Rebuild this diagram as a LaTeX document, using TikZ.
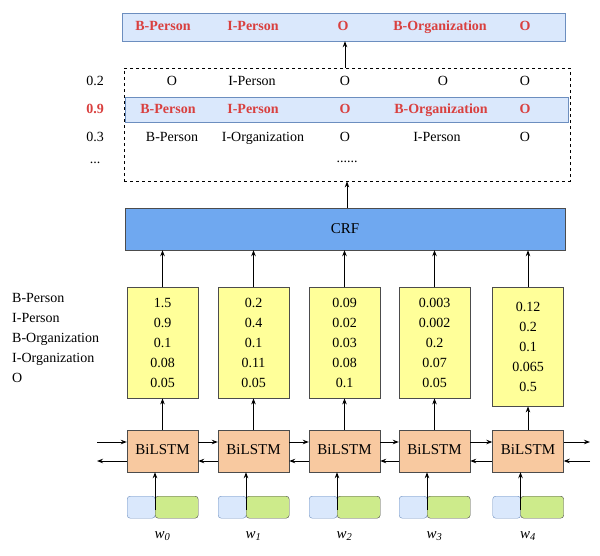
\documentclass[tikz,border=0pt]{standalone}
\usepackage{fontspec}
\setmainfont{Liberation Serif}
\usetikzlibrary{arrows.meta}
\definecolor{redt}{HTML}{D9403F}
\definecolor{lblue}{HTML}{DAE8FC}
\definecolor{bblue}{HTML}{6C8EBF}
\definecolor{crf}{HTML}{6FA8F0}
\definecolor{ylw}{HTML}{FFFF99}
\definecolor{org}{HTML}{F8C9A0}
\definecolor{grn}{HTML}{CDEB8B}
\begin{document}
\begin{tikzpicture}[x=1pt,y=-1pt,
  font=\fontsize{14}{16}\selectfont,
  every node/.append style={text height=9.5pt,text depth=3pt},
  arr/.style={-{Stealth[length=6pt,width=4.5pt]},line width=0.9pt},
  red/.style={text=redt,font=\fontsize{14}{16}\selectfont\bfseries},
  lstm/.style={draw=black!70,fill=org,minimum width=71pt,minimum height=42pt,inner sep=0pt,font=\fontsize{15}{17}\selectfont},
  yb/.style={draw=black!70,fill=ylw,inner sep=0pt,minimum width=71pt,align=center,font=\fontsize{14}{20}\selectfont,text height=,text depth=},
  box/.style={inner sep=0pt,text height=,text depth=}]
\useasboundingbox (0,0) rectangle (600,555);
% top
\node[box,draw=bblue,fill=lblue,minimum width=443pt,minimum height=28pt] (top) at (343.5,27) {};
\foreach \t/\x in {B-Person/163,I-Person/253,O/343,B-Organization/440,O/525}
  \node[red] at (\x,27) {\t};
% dashed box
\node[box,draw,dashed,line width=0.8pt,minimum width=446pt,minimum height=113pt] (dash) at (347,124.5) {};
\node[box,draw=bblue,fill=lblue,minimum width=443pt,minimum height=25pt] (hl) at (346.5,109.5) {};
\node at (95,82) {0.2};
\node[red] at (95,110) {0.9};
\node at (95,138) {0.3};
\node at (95,160) {...};
\foreach \t/\x in {O/172,I-Person/252,O/345,O/443,O/525}
  \node at (\x,82) {\t};
\foreach \t/\x in {B-Person/168,I-Person/253,O/345,B-Organization/441,O/525}
  \node[red] at (\x,110) {\t};
\foreach \t/\x in {B-Person/172,I-Organization/263,O/345,I-Person/437,O/525}
  \node at (\x,138) {\t};
\node at (347,159) {......};
% CRF
\node[box,draw=black!70,fill=crf,minimum width=440pt,minimum height=42pt,font=\fontsize{15}{17}\selectfont] (crf) at (345,229) {CRF};
\draw[arr] (dash.north -| 345,0) -- (top.south -| 345,0);
\draw[arr] (crf.north -| 347,0) -- (dash.south -| 347,0);
% labels
\node[anchor=north west,align=left,inner sep=0pt,font=\fontsize{14}{20}\selectfont,text height=,text depth=] (lab) at (12,293) {B-Person\\I-Person\\B-Organization\\I-Organization\\O};
% columns
\foreach \i/\x/\vals/\h in {0/162.5/{1.5\\0.9\\0.1\\0.08\\0.05}/111,1/253.5/{0.2\\0.4\\0.1\\0.11\\0.05}/111,2/344.5/{0.09\\0.02\\0.03\\0.08\\0.1}/111,3/434.5/{0.003\\0.002\\0.2\\0.07\\0.05}/111,4/528/{0.12\\0.2\\0.1\\0.065\\0.5}/119}{
  \node[yb,minimum height=\h pt,anchor=north] (y\i) at (\x,287) {\vals};
  \node[lstm] (l\i) at (\x,451) {BiLSTM};
  \node[box,draw=bblue,fill=lblue,rounded corners=3pt,minimum width=28pt,minimum height=22pt,anchor=north west] (eb\i) at (\x-35.5,496) {};
  \node[box,draw=black!70,fill=grn,rounded corners=3pt,minimum width=43pt,minimum height=22pt,anchor=north west] (eg\i) at (\x-7.5,496) {};
  \coordinate (e\i) at (\x-7.5,510);
  \draw[arr] (e\i) -- (e\i |- l\i.south);
  \draw[arr] (l\i.north) -- (y\i.south);
  \draw[arr] (y\i.north) -- (y\i.north |- crf.south);
  \node[font=\fontsize{15}{17}\selectfont] (w\i) at (\x,535) {\textit{w}\textsubscript{\textit{\i}}};
}
% recurrent arrows
\coordinate (lin) at (97,442); \coordinate (lout) at (97,461);
\coordinate (rout) at (590,442); \coordinate (rin) at (590,461);
\draw[arr] (lin) -- (lin -| l0.west);
\draw[arr] (lout -| l0.west) -- (lout);
\draw[arr] (rout -| l4.east) -- (rout);
\draw[arr] (rin) -- (rin -| l4.east);
\foreach \a/\b in {0/1,1/2,2/3,3/4}{
  \draw[arr] (l\a.east |- lin) -- (l\b.west |- lin);
  \draw[arr] (l\b.west |- lout) -- (l\a.east |- lout);
}
\end{tikzpicture}
\end{document}
